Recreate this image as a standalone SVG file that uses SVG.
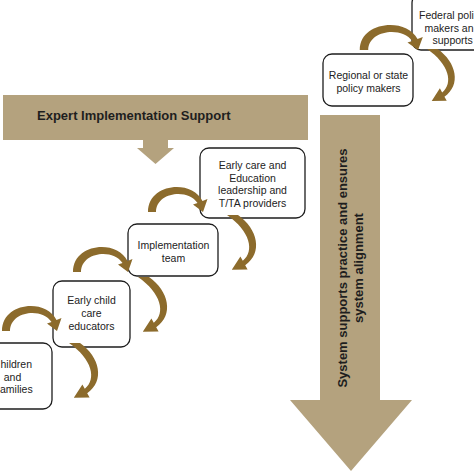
<svg xmlns="http://www.w3.org/2000/svg" xmlns:xlink="http://www.w3.org/1999/xlink" width="474" height="474" viewBox="0 0 474 474">
<style>
.box{fill:#fff;stroke:#1e1e1e;stroke-width:1.3}
.lbl{font-family:"Liberation Sans",Arial,sans-serif;font-size:10.5px;fill:#222;text-anchor:middle}
.lbs{font-family:"Liberation Sans",Arial,sans-serif;font-size:10.5px;fill:#222}
.band{fill:#b4a27e}
.big{font-family:"Liberation Sans",Arial,sans-serif;font-weight:bold;font-size:13px;fill:#1e1e1e}
.arc{fill:#8c6b2c}
</style>
<defs>
<path id="overArc" d="M-4,0 C-4,-29 40,-33 50.5,-11 L55.5,-13 L51,0 L41,-7.5 L45.5,-9 C36,-24 4,-20 4,0 Z"/>
<path id="downArc" d="M-3,0 L8,0 C28,14 33,38 15.2,50.2 L17.6,54.6 L1.8,54.8 L10.4,41.4 L12.8,45.8 C25,36 20,16 -3,0 Z"/>
</defs>
<rect width="474" height="474" fill="#fff"/>

<g id="expert-support">
<rect class="band" x="3" y="95" width="305" height="45"/>
<polygon class="band" points="143,139 168,139 168,148 174,148 155.5,164 137,148 143,148"/>
<text class="big" x="37" y="120" font-size="13.8">Expert Implementation Support</text>
</g>

<g id="system-arrow">
<polygon class="band" points="320,115 380,115 380,400 412,400 351,471 290,400 320,400"/>
<text class="big" transform="translate(347,268) rotate(-90)" text-anchor="middle" font-size="12.5">System supports practice and ensures</text>
<text class="big" transform="translate(363,268) rotate(-90)" text-anchor="middle" font-size="12.5">system alignment</text>
</g>

<g id="federal">
<rect class="box" x="412" y="-6" width="90" height="56" rx="9"/>
<text class="lbs" x="419" y="19">Federal poli</text>
<text class="lbs" x="424.5" y="31.5">makers an</text>
<text class="lbs" x="432.5" y="44">supports</text>
</g>

<g id="regional">
<rect class="box" x="323" y="54" width="90" height="52" rx="9"/>
<text class="lbl" x="368.5" y="79">Regional or state</text>
<text class="lbl" x="368.5" y="92">policy makers</text>
</g>

<g id="early-care-leadership">
<rect class="box" x="200" y="148" width="105" height="70" rx="9"/>
<text class="lbl" x="252.5" y="169">Early care and</text>
<text class="lbl" x="252.5" y="181.5">Education</text>
<text class="lbl" x="252.5" y="194">leadership and</text>
<text class="lbl" x="252.5" y="206.5">T/TA providers</text>
</g>

<g id="implementation-team">
<rect class="box" x="128" y="224" width="90" height="52" rx="9"/>
<text class="lbl" x="173.5" y="249">Implementation</text>
<text class="lbl" x="173.5" y="261.5">team</text>
</g>

<g id="early-child-care-educators">
<rect class="box" x="53" y="281" width="77" height="66" rx="9"/>
<text class="lbl" x="91.5" y="304">Early child</text>
<text class="lbl" x="91.5" y="317">care</text>
<text class="lbl" x="91.5" y="330">educators</text>
</g>

<g id="children-families">
<rect class="box" x="-40" y="343" width="92" height="66" rx="9"/>
<text class="lbs" x="0.5" y="368">hildren</text>
<text class="lbl" x="12.5" y="380.5">and</text>
<text class="lbs" x="0" y="393">amilies</text>
</g>

<g id="connectors" class="arc">
<use xlink:href="#overArc" href="#overArc" transform="translate(364,50) scale(1.06,1)"/>
<use xlink:href="#overArc" href="#overArc" transform="translate(152,212)"/>
<use xlink:href="#overArc" href="#overArc" transform="translate(77,272)"/>
<use xlink:href="#overArc" href="#overArc" transform="translate(6,331)"/>
<use xlink:href="#downArc" href="#downArc" transform="translate(430,49) scale(0.95)"/>
<use xlink:href="#downArc" href="#downArc" transform="translate(230,215)"/>
<use xlink:href="#downArc" href="#downArc" transform="translate(141,277)"/>
<use xlink:href="#downArc" href="#downArc" transform="translate(72,343)"/>
</g>
</svg>
